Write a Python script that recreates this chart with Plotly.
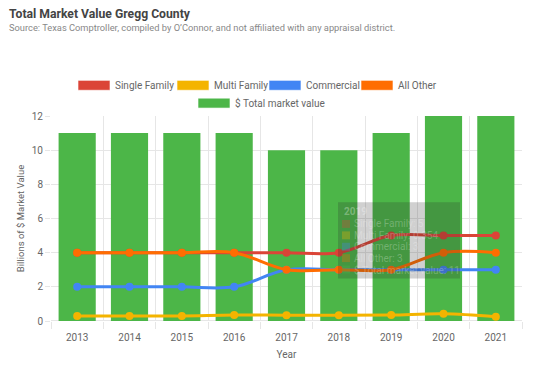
import plotly.graph_objects as go

years = ["2013", "2014", "2015", "2016", "2017", "2018", "2019", "2020", "2021"]
single_family = [4, 4, 4, 4, 4, 4, 5, 5, 5]
multi_family = [0.3, 0.3, 0.3, 0.35, 0.34, 0.34, 0.354, 0.42, 0.25]
commercial = [2, 2, 2, 2, 3, 3, 3, 3, 3]
all_other = [4, 4, 4, 4, 3, 3, 3, 4, 4]
total_value = [11, 11, 11, 11, 10, 10, 11, 12, 12]

C_RED = "#DB4437"
C_YEL = "#F4B400"
C_BLU = "#4285F4"
C_ORA = "#FF6D01"
C_GRN = "#4CB648"
FONT = "Roboto"
GRAY = "#666666"

xs = list(range(len(years)))

fig = go.Figure()
fig.add_trace(go.Bar(x=xs, y=total_value, name="$ Total market value",
                     marker=dict(color=C_GRN, line=dict(width=0)), hoverinfo="skip"))
series = [("Single Family", single_family, C_RED),
          ("Multi Family", multi_family, C_YEL),
          ("Commercial", commercial, C_BLU),
          ("All Other", all_other, C_ORA)]
for name, vals, col in series:
    fig.add_trace(go.Scatter(x=xs, y=vals, name=name, mode="lines+markers",
                             line=dict(color=col, width=3, shape="spline", smoothing=1.0),
                             marker=dict(color=col, size=8)))

# page has an 8px body margin; work in page pixels, convert to figure
OFF = 8
W, H = 545 - OFF, 370 - OFF
L, R, T, B = 51 - OFF, 522 - OFF, 116 - OFF, 323 - OFF

def px(x):
    return (x - OFF - L) / (R - L)

def py(y):
    return (B - (y - OFF)) / (B - T)

shapes = []
annotations = []

legend_items = [
    ("Single Family", C_RED, 78, 85),
    ("Multi Family", C_YEL, 177, 85),
    ("Commercial", C_BLU, 269, 85),
    ("All Other", C_ORA, 361, 85),
    ("$ Total market value", C_GRN, 198, 103),
]
for label, col, x0, yc in legend_items:
    shapes.append(dict(type="rect", xref="paper", yref="paper",
                       x0=px(x0), x1=px(x0 + 32), y0=py(yc + 5), y1=py(yc - 5),
                       fillcolor=col, line=dict(color="rgba(255,255,255,0.6)", width=1), layer="above"))
    annotations.append(dict(text=label, xref="paper", yref="paper", x=px(x0 + 35), y=py(yc),
                            xanchor="left", yanchor="middle", showarrow=False,
                            font=dict(family=FONT, size=10, color=GRAY)))

# Faded tooltip left over from the hover state (year 2019)
idx = years.index("2019")
shapes.append(dict(type="rect", xref="paper", yref="paper",
                   x0=px(338), x1=px(460), y0=py(280), y1=py(203),
                   fillcolor="rgba(40,40,40,0.22)", line=dict(width=0), layer="above"))
annotations.append(dict(text="<b>" + years[idx] + "</b>", xref="paper", yref="paper",
                        x=px(342), y=py(212), xanchor="left", yanchor="middle", showarrow=False,
                        font=dict(family=FONT, size=10, color="rgba(255,255,255,0.3)")))
tip_rows = [("Single Family", single_family[idx], C_RED),
            ("Multi Family", multi_family[idx], C_YEL),
            ("Commercial", commercial[idx], C_BLU),
            ("All Other", all_other[idx], C_ORA),
            ("$ Total market value", total_value[idx], C_GRN)]
for i, (name, v, col) in enumerate(tip_rows):
    yc = 225 + i * 11.5
    shapes.append(dict(type="rect", xref="paper", yref="paper",
                       x0=px(342), x1=px(350), y0=py(yc + 4), y1=py(yc - 4),
                       fillcolor=col, opacity=0.3, line=dict(width=0), layer="above"))
    annotations.append(dict(text=f"{name}: {v:g}", xref="paper", yref="paper",
                            x=px(352), y=py(yc), xanchor="left", yanchor="middle", showarrow=False,
                            font=dict(family=FONT, size=10, color="rgba(255,255,255,0.25)")))

annotations.append(dict(text="<b>Total Market Value Gregg County</b>", xref="paper", yref="paper",
                        x=px(8), y=py(13), xanchor="left", yanchor="middle", showarrow=False, borderpad=0,
                        font=dict(family=FONT, size=12.2, color="#444444")))
annotations.append(dict(text="Source: Texas Comptroller, compiled by O\u2019Connor, and not affiliated with any appraisal district.",
                        xref="paper", yref="paper", x=px(8), y=py(27), xanchor="left", yanchor="middle",
                        borderpad=0, showarrow=False, font=dict(family=FONT, size=9.3, color="#888888")))

fig.update_layout(
    width=W, height=H,
    margin=dict(l=L, r=W - R, t=T, b=H - B, pad=0),
    paper_bgcolor="white", plot_bgcolor="white",
    showlegend=False, bargap=0.29,
    font=dict(family=FONT, size=10, color=GRAY),
    shapes=shapes, annotations=annotations,
    xaxis=dict(range=[-0.5, len(years) - 0.5], tickvals=xs, ticktext=years,
               showgrid=False, zeroline=False, showline=False, ticks="outside", ticklen=7,
               tickcolor="rgba(0,0,0,0)",
               tickfont=dict(family=FONT, size=10, color=GRAY),
               title=dict(text="Year", font=dict(family=FONT, size=10, color=GRAY), standoff=8)),
    xaxis2=dict(overlaying="x", range=[-0.5, len(years) - 0.5],
                tickvals=[i - 0.5 for i in range(len(years) + 1)], showticklabels=False,
                showgrid=True, gridcolor="#e6e6e6", gridwidth=1, ticks="outside", ticklen=7,
                tickcolor="#e6e6e6", zeroline=False, showline=False, side="bottom", layer="below traces"),
    yaxis=dict(range=[0, 12], dtick=2, showgrid=True, gridcolor="#e6e6e6", zeroline=False,
               showline=False, ticks="outside", ticklen=5, tickcolor="#e6e6e6",
               tickfont=dict(family=FONT, size=10, color=GRAY),
               title=dict(text="Billions of $ Market Value", font=dict(family=FONT, size=9.5, color=GRAY),
                          standoff=5)),
)
fig.add_trace(go.Scatter(x=[0], y=[0], xaxis="x2", mode="markers", marker=dict(opacity=0),
                         hoverinfo="skip", showlegend=False))
fig.add_shape(type="line", xref="paper", yref="y", x0=0, x1=1, y0=0, y1=0,
              line=dict(color="#cccccc", width=1), layer="below")

fig.write_html("out.html")
